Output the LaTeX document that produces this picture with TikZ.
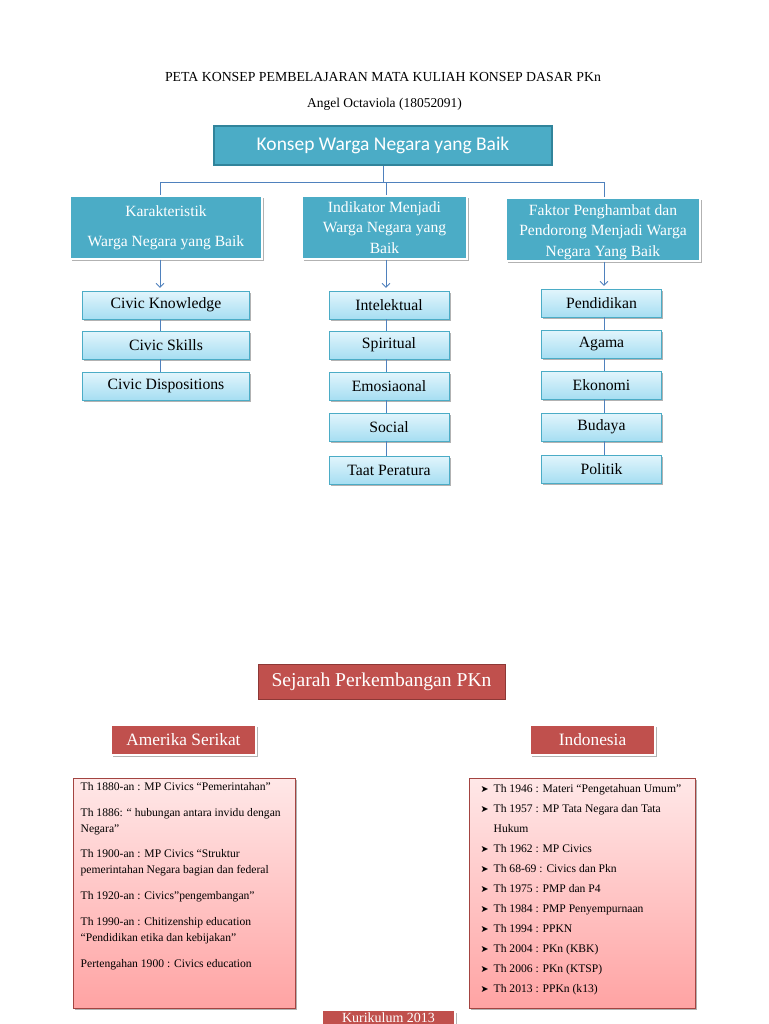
\documentclass[tikz,border=0pt]{standalone}
\usepackage{fontspec}
\setmainfont{Liberation Serif}
\newfontfamily\calib{Carlito}
\newfontfamily\dejavu{DejaVu Sans}
\usetikzlibrary{shadows,arrows.meta}
\definecolor{teal1}{HTML}{4BACC6}
\definecolor{tealdk}{HTML}{31849B}
\definecolor{lblue1}{HTML}{E2F5FC}
\definecolor{lblue2}{HTML}{A6DEF2}
\definecolor{redbox}{HTML}{C0504D}
\definecolor{reddk}{HTML}{8C3836}
\definecolor{pink1}{HTML}{FFE8E8}
\definecolor{pink2}{HTML}{FFA3A3}
\definecolor{conn}{HTML}{4F81BD}
\newcommand\blt{\makebox[9.75pt][l]{\dejavu\fontsize{7.2}{8}\selectfont ➤}}
\begin{document}
\begin{tikzpicture}[x=0.75pt,y=-0.75pt,
  sz/.style 2 args={minimum width=#1*0.75pt, minimum height=#2*0.75pt},
  shd/.style={drop shadow={shadow xshift=1.2pt, shadow yshift=-1.5pt, opacity=0.3, fill=black}},
  titletext/.style={inner sep=0pt},
  mainbox/.style={draw=tealdk, line width=0.8pt, fill=teal1, text=white, font=\calib\fontsize{14.6}{16}\selectfont, inner sep=0pt},
  catbox/.style={fill=teal1, draw=white, line width=1pt, text=white, shd, align=center, inner sep=0pt, font=\fontsize{11.7}{15.4}\selectfont},
  smallbox/.style={draw=teal1, line width=0.7pt, top color=lblue1, bottom color=lblue2, shd, inner sep=0pt, sz={120}{28}, font=\fontsize{11.8}{13}\selectfont},
  redhead/.style={fill=redbox, draw=reddk, line width=0.6pt, text=white, inner sep=0pt},
  redsub/.style={fill=redbox, draw=white, line width=1pt, text=white, inner sep=0pt, shd, font=\fontsize{13}{15}\selectfont},
  pinkbox/.style={draw=redbox!85!black, line width=0.6pt, top color=pink1, bottom color=pink2, shd, inner sep=0pt, sz={222}{230}},
  cn/.style={draw=conn, line width=0.6pt},
  arr/.style={cn, -{Straight Barb[length=3pt,width=6pt]}}
]
\useasboundingbox (0,0) rectangle (768,1024);
\clip (0,0) rectangle (768,1024);
\fill[white] (0,0) rectangle (768,1024);

% titles
\node[titletext, font=\fontsize{10.35}{12}\selectfont] (t1) at (383,77) {PETA KONSEP PEMBELAJARAN MATA KULIAH KONSEP DASAR PKn};
\node[titletext, font=\fontsize{10.1}{12}\selectfont] (t2) at (384.5,104) {Angel Octaviola (18052091)};

% main
\node[mainbox, sz={338}{39}] (main) at (383,145.5) {Konsep Warga Negara yang Baik};

% categories
\node[catbox, sz={192}{63}] (k1) at (166,227.5) {Karakteristik\\[7pt]Warga Negara yang Baik};
\node[catbox, sz={165}{63}] (k2) at (384.5,227.5) {Indikator Menjadi\\Warga Negara yang\\Baik};
\node[catbox, sz={194}{63}] (k3) at (603,229.5) {\rule{0pt}{12pt}Faktor Penghambat dan\\Pendorong Menjadi Warga\\Negara Yang Baik};

\coordinate (jl) at (160,182);
\coordinate (jmm) at (386,182);
\coordinate (jr) at (604,182);
\draw[cn] (main.south) -- (main.south |- jl);
\draw[cn] (jl) -- (jr);
\draw[cn] (jl) -- (jl |- k1.north);
\draw[cn] (jmm) -- (jmm |- k2.north);
\draw[cn] (jr) -- (jr |- k3.north);

% left column
\node[smallbox, sz={167}{28}] (a1) at (166,305) {Civic Knowledge};
\node[smallbox, sz={167}{28}] (a2) at (166,345) {Civic Skills};
\node[smallbox, sz={167}{28}] (a3) at (166,386) {Civic Dispositions};
% middle column
\node[smallbox] (b1) at (389,305) {Intelektual};
\node[smallbox] (b2) at (389,345) {Spiritual};
\node[smallbox] (b3) at (389,386) {Emosiaonal};
\node[smallbox] (b4) at (389,427) {Social};
\node[smallbox] (b5) at (389,470) {Taat Peratura};
% right column
\node[smallbox] (c1) at (601.5,303) {Pendidikan};
\node[smallbox] (c2) at (601.5,344) {Agama};
\node[smallbox] (c3) at (601.5,385) {Ekonomi};
\node[smallbox] (c4) at (601.5,427) {Budaya};
\node[smallbox] (c5) at (601.5,469) {Politik};

\coordinate (xl) at (160,0);
\coordinate (xm) at (386,0);
\coordinate (xr) at (604,0);
\draw[arr] (k1.south -| xl) -- ([yshift=2pt]a1.north -| xl);
\draw[arr] (k2.south -| xm) -- ([yshift=2pt]b1.north -| xm);
\draw[arr] (k3.south -| xr) -- ([yshift=2pt]c1.north -| xr);
\draw[cn] (a1.south -| xl) -- (a2.north -| xl);
\draw[cn] (a2.south -| xl) -- (a3.north -| xl);
\draw[cn] (b1.south -| xm) -- (b2.north -| xm);
\draw[cn] (b2.south -| xm) -- (b3.north -| xm);
\draw[cn] (b3.south -| xm) -- (b4.north -| xm);
\draw[cn] (b4.south -| xm) -- (b5.north -| xm);
\draw[cn] (c1.south -| xr) -- (c2.north -| xr);
\draw[cn] (c2.south -| xr) -- (c3.north -| xr);
\draw[cn] (c3.south -| xr) -- (c4.north -| xr);
\draw[cn] (c4.south -| xr) -- (c5.north -| xr);

% bottom section
\node[redhead, sz={247}{35}, font=\fontsize{14.7}{16}\selectfont] (sej) at (381.5,681.5) {Sejarah Perkembangan PKn};
\node[redsub, sz={145}{30}] (am) at (183.5,740) {Amerika Serikat};
\node[redsub, sz={125}{30}] (ind) at (592.5,740) {Indonesia};

\node[pinkbox] (lp) at (184,893) {\parbox[c][166pt][t]{155pt}{\fontsize{8.7}{12}\selectfont\parskip=7.3pt\raggedright
Th 1880-an : MP Civics “Pemerintahan”\par
Th 1886: “ hubungan antara invidu dengan Negara”\par
Th 1900-an : MP Civics “Struktur pemerintahan Negara bagian dan federal\par
Th 1920-an : Civics”pengembangan”\par
Th 1990-an : Chitizenship education\\“Pendidikan etika dan kebijakan”\par
Pertengahan 1900 : Civics education}};

\node[pinkbox, sz={226}{230}] (rp) at (582,893) {\parbox[c][166pt][t]{152pt}{\vspace*{1.5pt}\fontsize{8.7}{15}\selectfont
\blt Th 1946 : Materi “Pengetahuan Umum”\\
\blt Th 1957 : MP Tata Negara dan Tata\\
\hspace*{9.75pt}Hukum\\
\blt Th 1962 : MP Civics\\
\blt Th 68-69 : Civics dan Pkn\\
\blt Th 1975 : PMP dan P4\\
\blt Th 1984 : PMP Penyempurnaan\\
\blt Th 1994 : PPKN\\
\blt Th 2004 : PKn (KBK)\\
\blt Th 2006 : PKn (KTSP)\\
\blt Th 2013 : PPKn (k13)}};

\node[redsub, anchor=north, sz={133}{28}] (kur) at (388.5,1010) {};
\node[anchor=base, inner sep=0pt, text=white, font=\fontsize{10.5}{12}\selectfont] (kurt) at ([yshift=-9.5pt]kur.north) {Kurikulum 2013};
\end{tikzpicture}
\end{document}
